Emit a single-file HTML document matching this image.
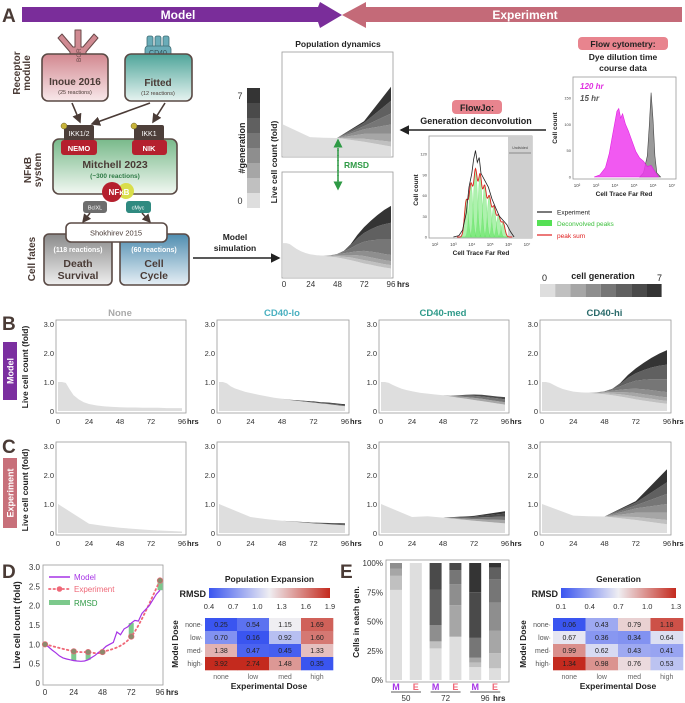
<!DOCTYPE html>
<html><head><meta charset="utf-8">
<style>
html,body{margin:0;padding:0;background:#fff;}
svg{display:block;font-family:"Liberation Sans",sans-serif;}
.b{font-weight:bold;}
</style></head>
<body>
<svg id="fig" width="685" height="703" viewBox="0 0 685 703" xmlns="http://www.w3.org/2000/svg">
<defs>
<linearGradient id="gPink" x1="0" y1="0" x2="0" y2="1"><stop offset="0" stop-color="#d28890"/><stop offset="1" stop-color="#f8e8ea"/></linearGradient>
<linearGradient id="gTeal" x1="0" y1="0" x2="0" y2="1"><stop offset="0" stop-color="#4fa59a"/><stop offset="1" stop-color="#e6f3f0"/></linearGradient>
<linearGradient id="gGreen" x1="0" y1="0" x2="0" y2="1"><stop offset="0" stop-color="#78b98a"/><stop offset="1" stop-color="#f2f8f2"/></linearGradient>
<linearGradient id="gGray" x1="0" y1="0" x2="0" y2="1"><stop offset="0" stop-color="#8a8a8a"/><stop offset="1" stop-color="#efefef"/></linearGradient>
<linearGradient id="gBlue" x1="0" y1="0" x2="0" y2="1"><stop offset="0" stop-color="#4f8db0"/><stop offset="1" stop-color="#e6eff5"/></linearGradient>
<linearGradient id="gCool" x1="0" y1="0" x2="1" y2="0"><stop offset="0" stop-color="#3a55f0"/><stop offset="0.5" stop-color="#efeef2"/><stop offset="1" stop-color="#c42a1e"/></linearGradient>
<marker id="ahBlk" markerWidth="6" markerHeight="6" refX="5" refY="3" orient="auto"><path d="M0,0L6,3L0,6Z" fill="#222"/></marker>
<marker id="ahBrn" markerWidth="6" markerHeight="6" refX="5" refY="3" orient="auto"><path d="M0,0L6,3L0,6Z" fill="#4a3b36"/></marker>
<marker id="ahGrn" markerWidth="6" markerHeight="6" refX="5" refY="3" orient="auto"><path d="M0,0L6,3L0,6Z" fill="#2e9a45"/></marker>
</defs>

<!-- Banner -->
<text x="2" y="22" font-size="19" class="b" fill="#4a3b36">A</text>
<path d="M22,7H318L320,2L342,15L320,28L318,22H22Z" fill="#7a2d9a"/>
<path d="M682,7H366L366,2L342,15L366,28L366,22H682Z" fill="#c46a78"/>
<text x="178" y="19" font-size="12" class="b" fill="#fff" text-anchor="middle">Model</text>
<text x="525" y="19" font-size="12" class="b" fill="#fff" text-anchor="middle">Experiment</text>

<!-- Left diagram -->
<g stroke-linejoin="round">
<text transform="translate(20,73) rotate(-90)" font-size="10" class="b" fill="#4a3b36" text-anchor="middle">Receptor</text>
<text transform="translate(30,73) rotate(-90)" font-size="10" class="b" fill="#4a3b36" text-anchor="middle">module</text>
<!-- BCR receptor -->
<path d="M70,75V52L58,38L62,34L73,47L75,47L75,30H81V47L83,47L94,34L98,38L86,52V75Z" fill="#d08a92" stroke="#6a4a4a" stroke-width="1"/>
<rect x="42" y="54" width="66" height="47" rx="6" fill="url(#gPink)" stroke="#5a4a45" stroke-width="1.6"/>
<text transform="translate(81,62) rotate(-90)" font-size="6.5" fill="#6a4a4a">BCR</text>
<text x="75" y="85" font-size="10" fill="#4a3b36" text-anchor="middle" class="b">Inoue 2016</text>
<text x="75" y="94" font-size="5.5" fill="#4a3b36" text-anchor="middle">(25 reactions)</text>
<!-- CD40 receptor -->
<rect x="147" y="36" width="6" height="40" rx="2" fill="#6aacb8" stroke="#3f6c74" stroke-width="0.8"/>
<rect x="155" y="36" width="6" height="40" rx="2" fill="#6aacb8" stroke="#3f6c74" stroke-width="0.8"/>
<rect x="163" y="36" width="6" height="40" rx="2" fill="#6aacb8" stroke="#3f6c74" stroke-width="0.8"/>
<rect x="145" y="46" width="26" height="11" rx="3" fill="#6aacb8" stroke="#3f6c74" stroke-width="0.8"/>
<text x="158" y="55" font-size="7" fill="#2f4f55" text-anchor="middle">CD40</text>
<rect x="125" y="54" width="67" height="47" rx="6" fill="url(#gTeal)" stroke="#5a4a45" stroke-width="1.6"/>
<text x="158" y="86" font-size="10" fill="#4a3b36" text-anchor="middle" class="b">Fitted</text>
<text x="158" y="95" font-size="5.5" fill="#4a3b36" text-anchor="middle">(12 reactions)</text>
<!-- arrows -->
<line x1="72" y1="103" x2="80" y2="122" stroke="#4a3b36" stroke-width="1.6" marker-end="url(#ahBrn)"/>
<line x1="150" y1="103" x2="92" y2="124" stroke="#4a3b36" stroke-width="1.6" marker-end="url(#ahBrn)"/>
<line x1="165" y1="103" x2="153" y2="122" stroke="#4a3b36" stroke-width="1.6" marker-end="url(#ahBrn)"/>
<text transform="translate(31,170) rotate(-90)" font-size="10" class="b" fill="#4a3b36" text-anchor="middle">NFκB</text>
<text transform="translate(41,170) rotate(-90)" font-size="10" class="b" fill="#4a3b36" text-anchor="middle">system</text>
<rect x="53" y="139" width="124" height="55" rx="6" fill="url(#gGreen)" stroke="#5a4a45" stroke-width="1.6"/>
<rect x="64" y="125" width="30" height="16" rx="2" fill="#4d3f3a"/>
<text x="79" y="136" font-size="7" fill="#fff" text-anchor="middle">IKK1/2</text>
<circle cx="64" cy="126" r="3" fill="#c8b43a" stroke="#6a5a20" stroke-width="0.5"/>
<rect x="61" y="140" width="36" height="15" rx="3" fill="#b5202e"/>
<text x="79" y="151" font-size="7.5" fill="#fff" text-anchor="middle" class="b">NEMO</text>
<rect x="134" y="125" width="30" height="16" rx="2" fill="#4d3f3a"/>
<text x="149" y="136" font-size="7" fill="#fff" text-anchor="middle">IKK1</text>
<circle cx="134" cy="126" r="3" fill="#c8b43a" stroke="#6a5a20" stroke-width="0.5"/>
<rect x="132" y="140" width="35" height="15" rx="3" fill="#b5202e"/>
<text x="149" y="151" font-size="7.5" fill="#fff" text-anchor="middle" class="b">NIK</text>
<text x="115" y="168" font-size="10.5" fill="#4a3b36" text-anchor="middle" class="b">Mitchell 2023</text>
<text x="115" y="178" font-size="6.5" fill="#2e7a45" text-anchor="middle" class="b">(~300 reactions)</text>
<circle cx="126" cy="191" r="8" fill="#d9de4a"/>
<circle cx="112" cy="192" r="10" fill="#b5202e"/>
<text x="119" y="195" font-size="8" fill="#fff" text-anchor="middle" class="b">NFκB</text>
<rect x="83" y="201" width="24" height="12" rx="3" fill="#6d6d6d"/>
<text x="95" y="209.5" font-size="5.5" fill="#fff" text-anchor="middle">BclXL</text>
<rect x="126" y="201" width="25" height="12" rx="3" fill="#2f8a80"/>
<text x="138" y="209.5" font-size="5.5" fill="#fff" text-anchor="middle">cMyc</text>
<line x1="90" y1="213" x2="83" y2="222" stroke="#4a3b36" stroke-width="1.5" marker-end="url(#ahBrn)"/>
<line x1="142" y1="213" x2="150" y2="222" stroke="#4a3b36" stroke-width="1.5" marker-end="url(#ahBrn)"/>
<text transform="translate(35,259) rotate(-90)" font-size="10" class="b" fill="#4a3b36" text-anchor="middle">Cell fates</text>
<rect x="44" y="234" width="68" height="51" rx="5" fill="url(#gGray)" stroke="#5a4a45" stroke-width="1.6"/>
<rect x="120" y="234" width="69" height="51" rx="5" fill="url(#gBlue)" stroke="#5a4a45" stroke-width="1.6"/>
<rect x="66" y="223" width="101" height="19" rx="5" fill="#fff" stroke="#5a4a45" stroke-width="1.6"/>
<text x="116" y="235.5" font-size="7.5" fill="#4a3b36" text-anchor="middle">Shokhirev 2015</text>
<text x="78" y="252" font-size="7" fill="#fff" text-anchor="middle" class="b">(118 reactions)</text>
<text x="78" y="267" font-size="10.5" fill="#4a3b36" text-anchor="middle" class="b">Death</text>
<text x="78" y="279" font-size="10.5" fill="#4a3b36" text-anchor="middle" class="b">Survival</text>
<text x="154" y="252" font-size="7" fill="#fff" text-anchor="middle" class="b">(60 reactions)</text>
<text x="154" y="267" font-size="10.5" fill="#4a3b36" text-anchor="middle" class="b">Cell</text>
<text x="154" y="279" font-size="10.5" fill="#4a3b36" text-anchor="middle" class="b">Cycle</text>
</g>

<!-- model simulation arrow -->
<line x1="193" y1="258" x2="279" y2="258" stroke="#222" stroke-width="1.6" marker-end="url(#ahBlk)"/>
<text x="235" y="240" font-size="8.5" class="b" fill="#222" text-anchor="middle">Model</text>
<text x="235" y="251" font-size="8.5" class="b" fill="#222" text-anchor="middle">simulation</text>

<!-- middle -->
<text x="338" y="47" font-size="8.5" class="b" fill="#222" text-anchor="middle">Population dynamics</text>
<g id="genBar"></g>
<text x="240" y="99" font-size="9" fill="#333" text-anchor="middle">7</text>
<text x="240" y="204" font-size="9" fill="#333" text-anchor="middle">0</text>
<text transform="translate(245,148) rotate(-90)" font-size="9" class="b" fill="#222" text-anchor="middle">#generation</text>
<text transform="translate(277,162) rotate(-90)" font-size="8.5" class="b" fill="#222" text-anchor="middle">Live cell count (fold)</text>
<rect x="282" y="52" width="111" height="105" fill="#fff" stroke="#999" stroke-width="0.8"/>
<rect x="282" y="172" width="111" height="106" fill="#fff" stroke="#999" stroke-width="0.8"/>
<g id="aTop"></g>
<g id="aBot"></g>
<g id="aTicks"></g>
<line x1="338" y1="186" x2="338" y2="140" stroke="#2e9a45" stroke-width="1.5" stroke-dasharray="3,2" marker-end="url(#ahGrn)"/>
<line x1="338" y1="150" x2="338" y2="189" stroke="#2e9a45" stroke-width="1.5" stroke-dasharray="3,2" marker-end="url(#ahGrn)"/>
<text x="344" y="168" font-size="8.5" class="b" fill="#2e9a45">RMSD</text>

<!-- FlowJo -->
<line x1="546" y1="130" x2="401" y2="130" stroke="#222" stroke-width="1.6" marker-end="url(#ahBlk)"/>
<rect x="452" y="100" width="50" height="14" rx="4" fill="#e8848e"/>
<text x="477" y="111" font-size="9" class="b" fill="#222" text-anchor="middle">FlowJo:</text>
<text x="476" y="124" font-size="9" class="b" fill="#222" text-anchor="middle">Generation deconvolution</text>
<g id="deconv"></g>
<g id="legendA">
<line x1="537" y1="212" x2="552" y2="212" stroke="#222" stroke-width="1.2"/>
<text x="557" y="214.5" font-size="6.5" fill="#222">Experiment</text>
<rect x="537" y="220" width="15" height="6" fill="#55e055"/>
<text x="557" y="226" font-size="6.5" fill="#3cc03c">Deconvolved peaks</text>
<line x1="537" y1="235" x2="552" y2="235" stroke="#e02020" stroke-width="1.2"/>
<text x="557" y="238" font-size="6.5" fill="#e02020">peak sum</text>
</g>

<!-- Flow cytometry -->
<rect x="578" y="37" width="90" height="13" rx="4" fill="#e8848e"/>
<text x="623" y="47" font-size="8.5" class="b" fill="#222" text-anchor="middle">Flow cytometry:</text>
<text x="623" y="60" font-size="8.5" class="b" fill="#222" text-anchor="middle">Dye dilution time</text>
<text x="623" y="71" font-size="8.5" class="b" fill="#222" text-anchor="middle">course data</text>
<g id="flowcyt"></g>

<!-- cell generation colorbar -->
<text x="542" y="281" font-size="9" fill="#222">0</text>
<text x="603" y="279" font-size="9" class="b" fill="#222" text-anchor="middle">cell generation</text>
<text x="657" y="281" font-size="9" fill="#222">7</text>
<g id="cgBar"></g>

<!-- B and C -->
<text x="2" y="330" font-size="19" class="b" fill="#4a3b36">B</text>
<rect x="3" y="342" width="14" height="58" fill="#7b2fa0"/>
<text transform="translate(13.5,371) rotate(-90)" font-size="9" class="b" fill="#fff" text-anchor="middle">Model</text>
<text transform="translate(28,367) rotate(-90)" font-size="8.5" class="b" fill="#222" text-anchor="middle">Live cell count (fold)</text>
<text x="2" y="453" font-size="19" class="b" fill="#4a3b36">C</text>
<rect x="3" y="458" width="14" height="70" fill="#c8707a"/>
<text transform="translate(13.5,493) rotate(-90)" font-size="9" class="b" fill="#fff" text-anchor="middle">Experiment</text>
<text transform="translate(28,490) rotate(-90)" font-size="8.5" class="b" fill="#222" text-anchor="middle">Live cell count (fold)</text>
<g id="bc"></g>

<!-- D -->
<text x="2" y="578" font-size="19" class="b" fill="#4a3b36">D</text>
<g id="dChart"></g>
<g id="hm1"></g>
<!-- E -->
<text x="340" y="578" font-size="19" class="b" fill="#4a3b36">E</text>
<g id="eChart"></g>
<g id="hm2"></g>
</svg>

<script>
// ===== data =====
// B panels (model) time points
const bTimes = [0,3,6,9,12,16,20,24,30,36,42,48,54,60,66,72,78,84,90,96];
const bNoneGen0 = [1,1,0.97,0.75,0.55,0.4,0.3,0.24,0.19,0.16,0.14,0.13,0.12,0.12,0.11,0.11,0.11,0.1,0.1,0.1];
const bLoGen0 = [1,1,0.95,0.85,0.78,0.72,0.66,0.62,0.56,0.51,0.46,0.42,0.38,0.35,0.32,0.29,0.26,0.23,0.2,0.17];
const bLoGen5 = [0,0,0,0,0,0,0,0,0,0,0,0,0.01,0.01,0.02,0.02,0.02,0.03,0.03,0.03];
const bLoGen7 = [0,0,0,0,0,0,0,0,0,0,0,0,0,0.01,0.01,0.02,0.02,0.03,0.03,0.03];
const bMedGen0 = [1,1,0.97,0.9,0.84,0.77,0.72,0.68,0.63,0.6,0.57,0.54,0.5,0.46,0.42,0.38,0.34,0.3,0.26,0.22];
const bMedGen2 = [0,0,0,0,0,0,0,0,0,0,0,0,0.02,0.04,0.06,0.07,0.08,0.08,0.08,0.08];
const bMedGen4 = [0,0,0,0,0,0,0,0,0,0,0,0,0.01,0.03,0.05,0.07,0.08,0.09,0.1,0.1];
const bMedGen6 = [0,0,0,0,0,0,0,0,0,0,0,0,0,0.01,0.03,0.05,0.06,0.06,0.06,0.08];
const bHiGen0 = [1,1,0.97,0.9,0.83,0.76,0.71,0.67,0.64,0.62,0.6,0.58,0.54,0.5,0.45,0.4,0.36,0.32,0.28,0.25];
const bHiGen1 = [0,0,0,0,0,0,0,0,0,0.01,0.02,0.04,0.06,0.08,0.09,0.1,0.1,0.1,0.1,0.1];
const bHiGen2 = [0,0,0,0,0,0,0,0,0,0,0.01,0.03,0.05,0.07,0.1,0.12,0.12,0.12,0.12,0.12];
const bHiGen3 = [0,0,0,0,0,0,0,0,0,0,0.01,0.02,0.05,0.08,0.12,0.15,0.17,0.18,0.18,0.18];
const bHiGen4 = [0,0,0,0,0,0,0,0,0,0,0,0.01,0.05,0.12,0.2,0.27,0.33,0.38,0.42,0.45];
const bHiGen5 = [0,0,0,0,0,0,0,0,0,0,0,0,0.02,0.08,0.18,0.26,0.33,0.4,0.46,0.5];
const bHiGen7 = [0,0,0,0,0,0,0,0,0,0,0,0,0,0.03,0.1,0.17,0.25,0.33,0.42,0.5];
// C panels (experiment)
const cTimes = [0,24,36,48,72,96];
const cNoneGen0 = [1,0.32,0.24,0.18,0.1,0.05];
const cLoGen0 = [1,0.55,0.48,0.42,0.33,0.27];
const cLoGen5 = [0,0,0,0,0.02,0.03];
const cLoGen7 = [0,0,0,0,0.01,0.03];
const cMedGen0 = [1,0.55,0.58,0.53,0.42,0.33];
const cMedGen2 = [0,0,0,0,0.06,0.12];
const cMedGen4 = [0,0,0,0,0.05,0.12];
const cMedGen6 = [0,0,0,0,0.04,0.1];
const cMedGen7 = [0,0,0,0,0.02,0.08];
const cHiGen0 = [1,0.6,0.58,0.57,0.45,0.3];
const cHiGen1 = [0,0,0,0,0.1,0.15];
const cHiGen2 = [0,0,0,0,0.15,0.25];
const cHiGen3 = [0,0,0,0,0.15,0.3];
const cHiGen4 = [0,0,0,0,0.1,0.35];
const cHiGen5 = [0,0,0,0,0.1,0.4];
const cHiGen7 = [0,0,0,0,0.05,0.45];
const doseTitles = ["None","CD40-lo","CD40-med","CD40-hi"];
const yTickLabels = ["0","1.0","2.0","3.0"];
const yTickValues = [0,1,2,3];
const xTickValues = [0,24,48,72,96];
// D chart
const dModelTimes = [0,3,6,9,12,15,18,21,24,27,30,33,36,39,42,45,48,51,54,57,60,63,66,69,72,75,78,81,84,87,90,93,96];
const dModelValues = [1.0,0.93,0.85,0.78,0.7,0.65,0.62,0.6,0.58,0.57,0.56,0.57,0.6,0.66,0.72,0.8,0.86,0.95,1.0,1.05,1.32,1.25,1.4,1.45,1.55,1.62,1.6,1.8,1.9,2.0,2.15,2.3,2.4];
const dExpTimes = [0,24,36,48,72,96];
const dExpValues = [1.0,0.82,0.8,0.8,1.2,2.65];
const dRmsdTimes = [24,36,72,96];
const dYTicks = [0,0.5,1.0,1.5,2.0,2.5,3.0];
// heatmaps
const doseLabels = ["none","low","med","high"];
const popExpansion = [[0.25,0.54,1.15,1.69],[0.70,0.16,0.92,1.60],[1.38,0.47,0.45,1.33],[3.92,2.74,1.48,0.35]];
const popTicks = [0.4,0.7,1.0,1.3,1.6,1.9];
const genRmsd = [[0.06,0.43,0.79,1.18],[0.67,0.36,0.34,0.64],[0.99,0.62,0.43,0.41],[1.34,0.98,0.76,0.53]];
const genTicks = [0.1,0.4,0.7,1.0,1.3];
// E stacked bars (percent per generation, bottom to top)
const eBarLabels = ["M","E","M","E","M","E"];
const eBarGens = [[0,1,2,3],[0],[0,1,3,5,6],[0,2,3,4,6],[0,1,2,4,6,7],[0,1,2,3,4,5,7]];
const eBarPerc = [[77,12,6,5],[100],[27,6,14,30,23],[37,27,18,12,6],[11,4,4,17,39,25],[10,13,19,24,20,10,4]];
const eGroupLabels = ["50","72","96"];
const eYTicks = [0,25,50,75,100];
// Flow cytometry histograms
const magLog = [2.9,3.2,3.5,3.7,3.85,4.0,4.1,4.2,4.3,4.4,4.55,4.7,4.9,5.1,5.3,5.5,5.7,5.9,6.1,6.3];
const magCnt = [0,4,18,45,75,105,125,130,112,120,100,88,68,48,36,30,20,22,10,0];
const grayLog = [5.3,5.5,5.7,5.8,5.9,6.0,6.1,6.2,6.4];
const grayCnt = [0,8,40,95,160,110,40,8,0];
const expLog = [3.0,3.3,3.5,3.7,3.85,4.0,4.1,4.2,4.3,4.4,4.5,4.7,4.9,5.1,5.3,5.5,5.7,5.9,6.1,6.3];
const expCnt = [0,2,10,35,72,92,112,125,108,115,92,82,72,55,42,30,24,18,8,0];
const peakLog = [3.7,3.95,4.2,4.45,4.7,4.95,5.2,5.45,5.7];
const peakH = [55,78,100,92,75,60,45,32,22];

// ===== helpers =====
const NS='http://www.w3.org/2000/svg';
function mk(parent, tag, attrs, text){
  const e=document.createElementNS(NS,tag);
  for(const k in attrs) e.setAttribute(k,attrs[k]);
  if(text!==undefined) e.textContent=text;
  parent.appendChild(e); return e;
}
const PAL=['#dedede','#c0c0c0','#a6a6a6','#8e8e8e','#767676','#606060','#4a4a4a','#343434'];
function drawArea(g, box, ymax, times, layers, gens, name){
  const sx=t=>box.x0+t/96*(box.x1-box.x0);
  const sy=v=>box.yb - v/ymax*(box.yb-box.yt);
  let base=times.map(()=>0);
  layers.forEach((L,i)=>{
    const top=base.map((b,j)=>b+L[j]);
    let d='M'+times.map((t,j)=>sx(t).toFixed(1)+','+sy(top[j]).toFixed(1)).join('L');
    for(let j=times.length-1;j>=0;j--) d+='L'+sx(times[j]).toFixed(1)+','+sy(base[j]).toFixed(1);
    d+='Z';
    const p=mk(g,'path',{d:d, fill:PAL[gens[i]]});
    
    
    base=top;
  });
}
function coolwarm(v,vmin,vmax){
  let t=(v-vmin)/(vmax-vmin); t=Math.max(0,Math.min(1,t));
  const b=[58,85,240], w=[239,238,242], r=[196,42,30];
  let c;
  if(t<0.5){const u=t/0.5; c=b.map((x,i)=>Math.round(x+(w[i]-x)*u));}
  else {const u=(t-0.5)/0.5; c=w.map((x,i)=>Math.round(x+(r[i]-x)*u));}
  return 'rgb('+c.join(',')+')';
}

// generation colorbars
(function(){
  const g=document.getElementById('genBar');
  for(let i=0;i<8;i++){
    const r=mk(g,'rect',{x:247,y:88+(7-i)*15,width:13,height:15,fill:PAL[i]});
    
    
  }
  const g2=document.getElementById('cgBar');
  for(let i=0;i<8;i++){
    const r=mk(g2,'rect',{x:540+i*15.2,y:284,width:15.2,height:13,fill:PAL[i]});
    
    
  }
})();

// panel A mini plots
(function(){
  drawArea(document.getElementById('aTop'), {x0:283,x1:391,yb:156,yt:52}, 3.3, cTimes,
    [cHiGen0,cHiGen1,cHiGen2,cHiGen3,cHiGen4,cHiGen5,cHiGen7],[0,1,2,3,4,5,7],'a-experiment');
  drawArea(document.getElementById('aBot'), {x0:283,x1:391,yb:277,yt:172}, 3.1, bTimes,
    [bHiGen0,bHiGen1,bHiGen2,bHiGen3,bHiGen4,bHiGen5,bHiGen7],[0,1,2,3,4,5,7],'a-model');
  const g=document.getElementById('aTicks');
  xTickValues.forEach(t=>{
    const x=284+t/96*107;
    const tx=mk(g,'text',{x:x,y:287,'font-size':8,fill:'#333','text-anchor':'middle'},String(t));
    
    
  });
  const h=mk(g,'text',{x:397,y:287,'font-size':8,fill:'#222','font-weight':'bold'},'hrs');
  
  
})();

// Deconvolution histogram
(function(){
  const g=document.getElementById('deconv');
  const X0=429,X1=532,Y0=136,Y1=238;
  const sx=l=>435+(l-2)/5*(527-435);
  const sy=c=>237-c*(237-154)/120;
  const fr=mk(g,'rect',{x:X0,y:Y0,width:X1-X0,height:Y1-Y0,fill:'#fff',stroke:'#999','stroke-width':0.8});
   
  const ud=mk(g,'rect',{x:508,y:Y0,width:X1-508,height:Y1-Y0,fill:'#cfcfcf'});
   
  const ut=mk(g,'text',{x:520,y:149,'font-size':3.5,fill:'#444','text-anchor':'middle'},'Undivided');
   
  const ul=mk(g,'line',{x1:509,y1:153,x2:531,y2:153,stroke:'#444','stroke-width':0.6});
   
  // peaks
  const sig=0.1;
  const grid=[]; for(let l=3.2;l<=6.2;l+=0.02) grid.push(l);
  peakLog.forEach((m,i)=>{
    let d='M'+sx(grid[0])+','+sy(0);
    grid.forEach(l=>{d+='L'+sx(l).toFixed(1)+','+sy(peakH[i]*Math.exp(-0.5*((l-m)/sig)**2)).toFixed(1);});
    d+='L'+sx(grid[grid.length-1])+','+sy(0)+'Z';
    const p=mk(g,'path',{d:d,fill:'#4be04b','fill-opacity':0.45,stroke:'#7fe87f','stroke-width':0.4});
     
  });
  // peak sum
  let ds='';
  grid.forEach((l,j)=>{let s=0; peakLog.forEach((m,i)=>{s+=peakH[i]*Math.exp(-0.5*((l-m)/sig)**2);}); ds+=(j?'L':'M')+sx(l).toFixed(1)+','+sy(s*0.92).toFixed(1);});
  const ps=mk(g,'path',{d:ds,fill:'none',stroke:'#e02020','stroke-width':0.9});
   
  const de='M'+expLog.map((l,j)=>sx(l).toFixed(1)+','+sy(expCnt[j]).toFixed(1)).join('L');
  const pe=mk(g,'path',{d:de,fill:'none',stroke:'#222','stroke-width':0.8});
   
  [0,30,60,90,120].forEach(c=>{
    const t=mk(g,'text',{x:X0-2,y:sy(c)+1.5,'font-size':4,fill:'#444','text-anchor':'end'},String(c));
     
  });
  [2,3,4,5,6,7].forEach(e=>{
    const t=mk(g,'text',{x:sx(e),y:246,'font-size':4.5,fill:'#444','text-anchor':'middle'},'10'+['²','³','⁴','⁵','⁶','⁷'][e-2]);
     
  });
  const xt=mk(g,'text',{x:481,y:255,'font-size':6.5,fill:'#222','text-anchor':'middle','font-weight':'bold'},'Cell Trace Far Red');
   
  const yt=mk(g,'text',{transform:'translate(418,190) rotate(-90)','font-size':6.5,fill:'#222','text-anchor':'middle','font-weight':'bold'},'Cell count');
   
})();

// Flow cytometry histogram
(function(){
  const g=document.getElementById('flowcyt');
  const X0=573,X1=676,Y0=77,Y1=179;
  const sx=l=>577+(l-2)/5*(672-577);
  const sy=c=>177-c*(177-98)/150;
  const fr=mk(g,'rect',{x:X0,y:Y0,width:X1-X0,height:Y1-Y0,fill:'#fff',stroke:'#999','stroke-width':0.8});
   
  const dg='M'+grayLog.map((l,j)=>sx(l).toFixed(1)+','+sy(grayCnt[j]).toFixed(1)).join('L')+'Z';
  const pg=mk(g,'path',{d:dg,fill:'#9a9a9a',stroke:'#444','stroke-width':0.6});
   
  const dm='M'+magLog.map((l,j)=>sx(l).toFixed(1)+','+sy(magCnt[j]).toFixed(1)).join('L')+'Z';
  const pm=mk(g,'path',{d:dm,fill:'#ee3cee','fill-opacity':0.85,stroke:'#e020e0','stroke-width':0.6});
   
  const t1=mk(g,'text',{x:580,y:89,'font-size':8,fill:'#e030e0','font-style':'italic','font-weight':'bold'},'120 hr');
   
  const t2=mk(g,'text',{x:580,y:101,'font-size':8,fill:'#555','font-style':'italic','font-weight':'bold'},'15 hr');
   
  [0,50,100,150].forEach(c=>{
    const t=mk(g,'text',{x:X0-2,y:sy(c)+1.5,'font-size':4,fill:'#444','text-anchor':'end'},String(c));
     
  });
  [2,3,4,5,6,7].forEach(e=>{
    const t=mk(g,'text',{x:sx(e),y:187,'font-size':4.5,fill:'#444','text-anchor':'middle'},'10'+['²','³','⁴','⁵','⁶','⁷'][e-2]);
     
  });
  const xt=mk(g,'text',{x:624,y:196,'font-size':6.5,fill:'#222','text-anchor':'middle','font-weight':'bold'},'Cell Trace Far Red');
   
  const yt=mk(g,'text',{transform:'translate(557,128) rotate(-90)','font-size':6.5,fill:'#222','text-anchor':'middle','font-weight':'bold'},'Cell count');
   
})();

// B and C panels
(function(){
  const g=document.getElementById('bc');
  const xs=[[58,182],[219,345],[381,505],[542,667]];
  const titleColors=['#aaaaaa','#4ab0c0','#2f9a8a','#2a6a6a'];
  const bData=[
    {layers:[bNoneGen0],gens:[0]},
    {layers:[bLoGen0,bLoGen5,bLoGen7],gens:[0,5,7]},
    {layers:[bMedGen0,bMedGen2,bMedGen4,bMedGen6],gens:[0,2,4,6]},
    {layers:[bHiGen0,bHiGen1,bHiGen2,bHiGen3,bHiGen4,bHiGen5,bHiGen7],gens:[0,1,2,3,4,5,7]}];
  const cData=[
    {layers:[cNoneGen0],gens:[0]},
    {layers:[cLoGen0,cLoGen5,cLoGen7],gens:[0,5,7]},
    {layers:[cMedGen0,cMedGen2,cMedGen4,cMedGen6,cMedGen7],gens:[0,2,4,6,7]},
    {layers:[cHiGen0,cHiGen1,cHiGen2,cHiGen3,cHiGen4,cHiGen5,cHiGen7],gens:[0,1,2,3,4,5,7]}];
  const rows=[{yb:411,yt:324,name:'b',times:bTimes,data:bData},{yb:533,yt:446,name:'c',times:cTimes,data:cData}];
  xs.forEach((xr,i)=>{
    const tt=mk(g,'text',{x:(xr[0]+xr[1])/2,y:316,'font-size':9.5,'font-weight':'bold',fill:titleColors[i],'text-anchor':'middle'},doseTitles[i]);
     
    rows.forEach(r=>{
      const fr=mk(g,'rect',{x:xr[0]-2,y:r.yt-4,width:xr[1]-xr[0]+6,height:r.yb-r.yt+6,fill:'#fff',stroke:'#999','stroke-width':0.8});
       
      drawArea(g,{x0:xr[0],x1:xr[1],yb:r.yb,yt:r.yt},3,r.times,r.data[i].layers,r.data[i].gens,r.name+'-panel-'+i);
      yTickValues.forEach((v,k)=>{
        const y=r.yb-v/3*(r.yb-r.yt);
        const t=mk(g,'text',{x:xr[0]-4,y:y+3,'font-size':7.5,fill:'#333','text-anchor':'end'},yTickLabels[k]);
         
      });
      xTickValues.forEach(tv=>{
        const x=xr[0]+tv/96*(xr[1]-xr[0]);
        const t=mk(g,'text',{x:x,y:r.yb+13,'font-size':7.5,fill:'#333','text-anchor':'middle'},String(tv));
         
      });
      const h=mk(g,'text',{x:xr[1]+5,y:r.yb+13,'font-size':7.5,fill:'#222','font-weight':'bold'},'hrs');
       
    });
  });
})();

// D chart
(function(){
  const g=document.getElementById('dChart');
  const sx=t=>45+t/96*(160-45);
  const sy=v=>683-v/3*(683-567);
  const fr=mk(g,'rect',{x:43,y:565,width:120,height:120,fill:'#fff',stroke:'#999','stroke-width':0.8});
   
  dYTicks.forEach(v=>{
    const t=mk(g,'text',{x:40,y:sy(v)+3,'font-size':8,fill:'#333','text-anchor':'end'},v===0?'0':v.toFixed(1));
     
  });
  xTickValues.forEach(tv=>{
    const t=mk(g,'text',{x:sx(tv),y:695,'font-size':8,fill:'#333','text-anchor':'middle'},String(tv));
     
  });
  const h=mk(g,'text',{x:166,y:695,'font-size':8,fill:'#222','font-weight':'bold'},'hrs');
   
  const yt=mk(g,'text',{transform:'translate(20,625) rotate(-90)','font-size':9,fill:'#222','text-anchor':'middle','font-weight':'bold'},'Live cell count (fold)');
   
  const modelAt=t=>{for(let j=1;j<dModelTimes.length;j++){if(t<=dModelTimes[j]){const a=dModelTimes[j-1],b=dModelTimes[j];const u=(t-a)/(b-a);return dModelValues[j-1]+(dModelValues[j]-dModelValues[j-1])*u;}}return dModelValues[dModelValues.length-1];};
  dRmsdTimes.forEach(t=>{
    const k=dExpTimes.indexOf(t); const m=modelAt(t), e=dExpValues[k];
    const r=mk(g,'rect',{x:sx(t)-2.5,y:sy(Math.max(m,e)),width:5,height:Math.abs(sy(m)-sy(e)),fill:'#7cc98c'});
     
  });
  // experiment dotted curve (Catmull-Rom through points)
  const P=dExpTimes.map((t,j)=>[sx(t),sy(dExpValues[j])]);
  let d='M'+P[0][0]+','+P[0][1];
  for(let j=0;j<P.length-1;j++){
    const p0=P[Math.max(0,j-1)],p1=P[j],p2=P[j+1],p3=P[Math.min(P.length-1,j+2)];
    const c1=[p1[0]+(p2[0]-p0[0])/6,p1[1]+(p2[1]-p0[1])/6], c2=[p2[0]-(p3[0]-p1[0])/6,p2[1]-(p3[1]-p1[1])/6];
    d+='C'+c1.join(',')+' '+c2.join(',')+' '+p2.join(',');
  }
  const ec=mk(g,'path',{d:d,fill:'none',stroke:'#ef6878','stroke-width':1.8,'stroke-dasharray':'1.5,3','stroke-linecap':'round'});
   
  const dm='M'+dModelTimes.map((t,j)=>sx(t).toFixed(1)+','+sy(dModelValues[j]).toFixed(1)).join('L');
  const ml=mk(g,'path',{d:dm,fill:'none',stroke:'#a633e6','stroke-width':1.2});
   
  dExpTimes.forEach((t,j)=>{
    const c=mk(g,'circle',{cx:sx(t),cy:sy(dExpValues[j]),r:2.8,fill:'#8d8a6c',stroke:'#ef6878','stroke-width':0.6});
     
  });
  // legend
  const l1=mk(g,'line',{x1:49,y1:577,x2:70,y2:577,stroke:'#a633e6','stroke-width':1.5});
   
  const t1=mk(g,'text',{x:74,y:580,'font-size':8,fill:'#a633e6'},'Model');
   
  const l2=mk(g,'line',{x1:49,y1:589,x2:70,y2:589,stroke:'#ef6878','stroke-width':1.8,'stroke-dasharray':'1.5,3','stroke-linecap':'round'});
   
  const c2=mk(g,'circle',{cx:59.5,cy:589,r:2.8,fill:'#ef6878'});
   
  const t2=mk(g,'text',{x:74,y:592,'font-size':8,fill:'#ef6878'},'Experiment');
   
  const l3=mk(g,'rect',{x:49,y:600,width:21,height:5,fill:'#7cc98c'});
   
  const t3=mk(g,'text',{x:74,y:606,'font-size':8,fill:'#2e9a45'},'RMSD');
   
})();

// heatmaps
function heatmap(gid, vals, ticks, title, name, L){
  const g=document.getElementById(gid);
  const vmin=ticks[0], vmax=ticks[ticks.length-1];
  const tt=mk(g,'text',{x:(L.cbx0+L.cbx1)/2,y:582,'font-size':8.5,'font-weight':'bold',fill:'#222','text-anchor':'middle'},title);
   
  const rl=mk(g,'text',{x:L.cbx0-3,y:597,'font-size':9,'font-weight':'bold',fill:'#222','text-anchor':'end'},'RMSD');
   
  const cb=mk(g,'rect',{x:L.cbx0,y:588,width:L.cbx1-L.cbx0,height:10,fill:'url(#gCool)'});
   
  ticks.forEach((v,k)=>{
    const x=L.cbx0+(v-vmin)/(vmax-vmin)*(L.cbx1-L.cbx0);
    const t=mk(g,'text',{x:x,y:609,'font-size':7.5,fill:'#333','text-anchor':'middle'},v.toFixed(1));
     
  });
  const cw=(L.x1-L.x0)/4, ch=(670-618)/4;
  vals.forEach((row,r)=>{
    const rt=mk(g,'text',{x:L.x0-2,y:618+ch*r+ch/2+2.5,'font-size':7,fill:'#555','text-anchor':'end'},doseLabels[r]+'·');
     
    row.forEach((v,c)=>{
      const rc=mk(g,'rect',{x:L.x0+c*cw,y:618+r*ch,width:cw+0.3,height:ch+0.3,fill:coolwarm(v,vmin,vmax)});
       
      const t=mk(g,'text',{x:L.x0+c*cw+cw/2,y:618+r*ch+ch/2+2.5,'font-size':7,fill:'#222','text-anchor':'middle'},v.toFixed(2));
       
    });
  });
  doseLabels.forEach((d,c)=>{
    const t=mk(g,'text',{x:L.x0+c*cw+cw/2,y:679,'font-size':7,fill:'#666','text-anchor':'middle'},d);
     
  });
  const xa=mk(g,'text',{x:(L.x0+L.x1)/2,y:689,'font-size':8.5,'font-weight':'bold',fill:'#222','text-anchor':'middle'},'Experimental Dose');
   
  const ya=mk(g,'text',{transform:'translate('+L.ylx+',644) rotate(-90)','font-size':8.5,'font-weight':'bold',fill:'#222','text-anchor':'middle'},'Model Dose');
   
}
heatmap('hm1',popExpansion,popTicks,'Population Expansion','pop-heatmap',{x0:205,x1:333,cbx0:209,cbx1:330,ylx:178});
heatmap('hm2',genRmsd,genTicks,'Generation','gen-heatmap',{x0:553,x1:683,cbx0:561,cbx1:676,ylx:526});

// E chart
(function(){
  const g=document.getElementById('eChart');
  const sy=p=>680-p/100*(680-563);
  const fr=mk(g,'rect',{x:386,y:560,width:123,height:122,fill:'#fff',stroke:'#999','stroke-width':0.8});
   
  eYTicks.forEach(p=>{
    const t=mk(g,'text',{x:383,y:sy(p)+3,'font-size':8,fill:'#333','text-anchor':'end'},p+'%');
     
  });
  const yt=mk(g,'text',{transform:'translate(359,622) rotate(-90)','font-size':8.5,'font-weight':'bold',fill:'#222','text-anchor':'middle'},'Cells in each gen.');
   
  eBarPerc.forEach((segs,b)=>{
    const cx=396+b*19.8;
    let acc=0;
    segs.forEach((p,k)=>{
      const r=mk(g,'rect',{x:cx-6,y:sy(acc+p),width:12,height:sy(acc)-sy(acc+p),fill:PAL[eBarGens[b][k]]});
       
      acc+=p;
    });
    const lab=eBarLabels[b];
    const t=mk(g,'text',{x:cx,y:690,'font-size':9,'font-weight':'bold',fill:lab==='M'?'#a633e6':'#ef6878','text-anchor':'middle'},lab);
     
  });
  eGroupLabels.forEach((gl,k)=>{
    const cx=406+k*39.6;
    const ln=mk(g,'line',{x1:cx-15,y1:692,x2:cx+15,y2:692,stroke:'#222','stroke-width':0.8});
     
    const t=mk(g,'text',{x:cx,y:701,'font-size':8,fill:'#333','text-anchor':'middle'},gl);
     
  });
  const h=mk(g,'text',{x:493,y:701,'font-size':8,'font-weight':'bold',fill:'#222'},'hrs');
   
})();
</script>
</body></html>
